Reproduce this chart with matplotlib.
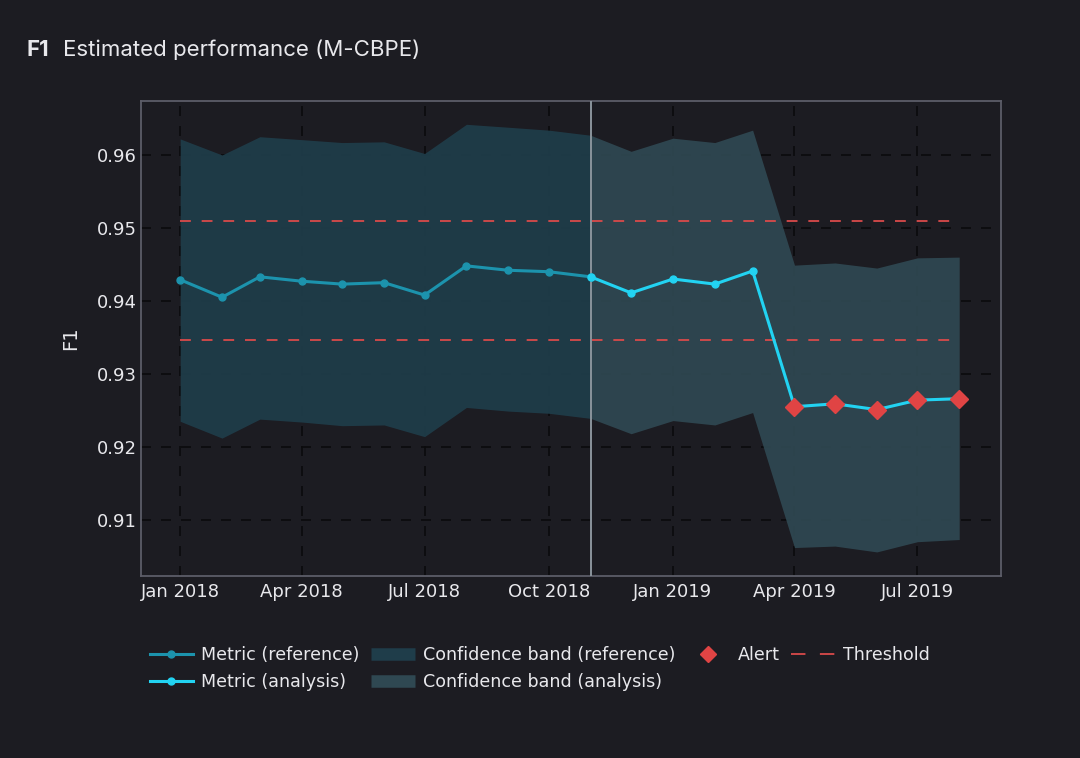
import matplotlib
matplotlib.use("Agg")
import matplotlib.pyplot as plt
import matplotlib.dates as mdates
from matplotlib.lines import Line2D
import pandas as pd

plt.rcParams["font.family"] = ["DejaVu Sans"]

# --- data ---
ref_dates = pd.to_datetime(["2018-01-01", "2018-02-01", "2018-03-01", "2018-04-01",
                            "2018-05-01", "2018-06-01", "2018-07-01", "2018-08-01",
                            "2018-09-01", "2018-10-01", "2018-11-01"])
ref_metric = [0.9429, 0.9405, 0.9433, 0.9427, 0.9423, 0.9425, 0.9408, 0.9448,
              0.9442, 0.9440, 0.9433]
ref_upper = [0.9622, 0.9600, 0.9625, 0.9621, 0.9617, 0.9618, 0.9602, 0.9642,
             0.9638, 0.9634, 0.9627]
ref_lower = [0.9235, 0.9212, 0.9238, 0.9234, 0.9229, 0.9230, 0.9214, 0.9254,
             0.9249, 0.9246, 0.9239]

ana_dates = pd.to_datetime(["2018-11-01", "2018-12-01", "2019-01-01", "2019-02-01",
                            "2019-03-01", "2019-04-01", "2019-05-01", "2019-06-01",
                            "2019-07-01", "2019-08-01"])
ana_metric = [0.9433, 0.9411, 0.9430, 0.9423, 0.9441, 0.9255, 0.9259, 0.9251,
              0.9264, 0.9266]
ana_upper = [0.9627, 0.9605, 0.9623, 0.9617, 0.9634, 0.9449, 0.9452, 0.9445,
             0.9459, 0.9460]
ana_lower = [0.9239, 0.9218, 0.9236, 0.9230, 0.9247, 0.9062, 0.9064, 0.9056,
             0.9070, 0.9073]
ana_alert = [False, False, False, False, False, True, True, True, True, True]

upper_threshold = 0.9509
lower_threshold = 0.9346
boundary = pd.Timestamp("2018-11-01")

BG = "#1c1c22"
REF_LINE = "#1c93ad"
ANA_LINE = "#22d3f2"
REF_BAND = "#1f3d4a"
ANA_BAND = "#2f4852"
ALERT = "#e04444"
THRESH = "#d94a4a"
TEXT = "#e8e8ec"

fig = plt.figure(figsize=(10.8, 7.58), dpi=100, facecolor=BG)
ax = fig.add_axes([0.1306, 0.2401, 0.7963, 0.6267], facecolor=BG)

ax.grid(True, color="#0b0b0d", linestyle=(0, (6, 6)), linewidth=1.2, zorder=0)
ax.set_axisbelow(True)

ax.fill_between(ref_dates, ref_lower, ref_upper, color=REF_BAND, alpha=0.92,
                linewidth=0, zorder=1)
ax.fill_between(ana_dates, ana_lower, ana_upper, color=ANA_BAND, alpha=0.92,
                linewidth=0, zorder=1)

thr_x = [ref_dates[0], ana_dates[-1]]
ax.plot(thr_x, [upper_threshold] * 2, color=THRESH, linestyle=(0, (6, 6)),
        linewidth=1.3, zorder=2)
ax.plot(thr_x, [lower_threshold] * 2, color=THRESH, linestyle=(0, (6, 6)),
        linewidth=1.3, zorder=2)

ax.axvline(boundary, color="#8a949c", linewidth=1.4, zorder=3)

ax.plot(ref_dates, ref_metric, color=REF_LINE, linewidth=2.2, marker="o",
        markersize=5, zorder=4)
ax.plot(ana_dates, ana_metric, color=ANA_LINE, linewidth=2.2, marker="o",
        markersize=5, zorder=5)
alert_x = [d for d, a in zip(ana_dates, ana_alert) if a]
alert_y = [v for v, a in zip(ana_metric, ana_alert) if a]
ax.plot(alert_x, alert_y, linestyle="none", marker="D", markersize=9,
        color=ALERT, zorder=6)

ax.set_xlim(pd.Timestamp("2017-12-03"), pd.Timestamp("2019-09-01"))
ax.set_ylim(0.9023, 0.9674)
ax.set_yticks([0.91, 0.92, 0.93, 0.94, 0.95, 0.96])
ax.set_yticklabels(["0.91", "0.92", "0.93", "0.94", "0.95", "0.96"])
ax.xaxis.set_major_locator(mdates.MonthLocator(bymonth=[1, 4, 7, 10]))
ax.xaxis.set_major_formatter(mdates.DateFormatter("%b %Y"))
ax.tick_params(colors=TEXT, labelsize=13, length=0)
ax.tick_params(axis="y", pad=3)
ax.tick_params(axis="x", pad=5)
for s in ax.spines.values():
    s.set_color("#5c5d68")
    s.set_linewidth(1.3)
ax.set_ylabel("F1", color=TEXT, fontsize=14, labelpad=12)

fig.text(0.025, 0.934, "F1", color=TEXT, fontsize=16, fontweight="bold",
         family=["Inter", "DejaVu Sans"], va="center")
fig.text(0.058, 0.934, "Estimated performance (M-CBPE)", color=TEXT, fontsize=16,
         family=["Inter", "DejaVu Sans"], va="center")

handles = [
    Line2D([], [], color=REF_LINE, linewidth=2.2, marker="o", markersize=5),
    Line2D([], [], color=ANA_LINE, linewidth=2.2, marker="o", markersize=5),
    Line2D([], [], color=REF_BAND, linewidth=9, solid_capstyle="butt"),
    Line2D([], [], color=ANA_BAND, linewidth=9, solid_capstyle="butt"),
    Line2D([], [], linestyle="none", marker="D", markersize=8, color=ALERT),
    Line2D([], [], color=THRESH, linestyle=(0, (8, 8)), linewidth=1.3),
]
labels = ["Metric (reference)", "Metric (analysis)",
          "Confidence band (reference)", "Confidence band (analysis)",
          "Alert", "Threshold"]
leg = fig.legend(handles, labels, ncol=4, loc="upper left",
                 bbox_to_anchor=(0.132, 0.157), frameon=False, fontsize=12.6,
                 labelcolor=TEXT, handlelength=2.5, handletextpad=0.45,
                 columnspacing=0.65, labelspacing=0.52, borderaxespad=0)

fig.savefig("out.png", dpi=100, facecolor=BG)
